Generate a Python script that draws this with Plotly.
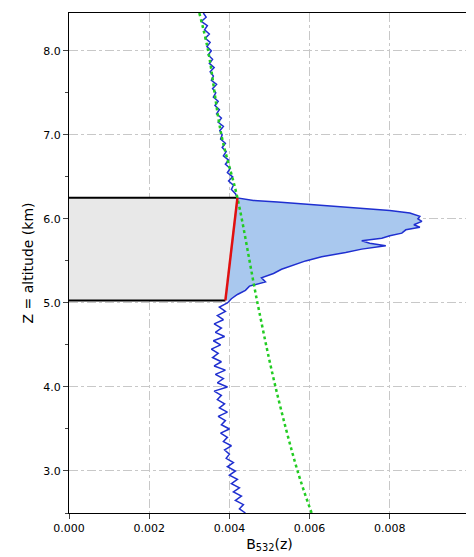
import plotly.graph_objects as go

# blue profile (x in units of 1e-3)
z_up = [8.45,8.40,8.35,8.30,8.25,8.20,8.15,8.10,8.05,8.00,7.95,7.90,7.85,7.80,7.75,7.70,7.65,7.60,7.55,7.50,7.45,7.40,7.35,7.30,7.25,7.20,7.15,7.10,7.05,7.00,6.95,6.90,6.85,6.80,6.75,6.70,6.65,6.60,6.55,6.50,6.45,6.40,6.35,6.30,6.25]
x_up = [3.35,3.42,3.30,3.45,3.38,3.50,3.40,3.52,3.44,3.55,3.47,3.58,3.50,3.62,3.52,3.60,3.55,3.68,3.58,3.66,3.60,3.72,3.64,3.75,3.68,3.80,3.72,3.85,3.76,3.82,3.78,3.90,3.82,3.92,3.85,3.98,3.90,4.02,3.95,4.08,3.98,4.10,4.05,4.15,4.20]
z_layer = [6.25,6.22,6.20,6.17,6.14,6.10,6.07,6.03,6.00,5.97,5.93,5.90,5.87,5.83,5.80,5.77,5.74,5.71,5.68,5.64,5.60,5.55,5.50,5.45,5.40,5.35,5.30,5.25,5.20,5.15,5.10,5.05,5.03]
x_layer = [4.20,4.6,5.2,6.0,7.0,8.0,8.5,8.75,8.7,8.8,8.6,8.75,8.4,8.3,8.0,7.8,7.3,7.5,7.9,7.3,6.9,6.3,5.9,5.6,5.3,5.1,4.8,4.9,4.5,4.4,4.2,4.05,4.0]
z_low = [5.03,5.00,4.95,4.90,4.85,4.80,4.75,4.70,4.65,4.60,4.55,4.50,4.45,4.40,4.35,4.30,4.25,4.20,4.15,4.10,4.05,4.00,3.95,3.90,3.85,3.80,3.75,3.70,3.65,3.60,3.55,3.50,3.45,3.40,3.35,3.30,3.25,3.20,3.15,3.10,3.05,3.00,2.95,2.90,2.85,2.80,2.75,2.70,2.65,2.60,2.55,2.50]
x_low = [4.0,3.95,3.75,3.90,3.70,3.85,3.62,3.80,3.65,3.88,3.60,3.78,3.55,3.72,3.58,3.80,3.62,3.90,3.65,3.85,3.70,3.95,3.62,3.80,3.70,3.88,3.75,3.95,3.72,3.90,3.80,4.00,3.78,3.95,3.85,4.05,3.88,4.00,3.92,4.10,3.95,4.15,4.00,4.20,4.05,4.25,4.10,4.30,4.15,4.35,4.25,4.40]

# molecular (green) profile
z_mol = [8.45,8.0,7.0,6.25,5.0,4.0,3.0,2.5]
x_mol = [3.25,3.47,3.8,4.2,4.7,5.15,5.7,6.05]

# layer bounds
z_base, z_top = 5.03, 6.25
x_base, x_top = 3.9, 4.2

s = 1e-3
fig = go.Figure()
fig.add_trace(go.Scatter(x=[0, x_base*s, x_top*s, 0], y=[z_base, z_base, z_top, z_top],
                         fill="toself", fillcolor="#e8e8e8", line=dict(width=0), mode="lines"))
fig.add_trace(go.Scatter(x=[v*s for v in x_layer] + [x_base*s], y=z_layer + [z_base],
                         fill="toself", fillcolor="#a9c8ee", line=dict(width=0), mode="lines"))
fig.add_trace(go.Scatter(x=[0, x_top*s], y=[z_top, z_top], mode="lines", line=dict(color="black", width=2)))
fig.add_trace(go.Scatter(x=[0, x_base*s], y=[z_base, z_base], mode="lines", line=dict(color="black", width=2)))
fig.add_trace(go.Scatter(x=[v*s for v in x_up + x_layer[1:] + x_low[1:]], y=z_up + z_layer[1:] + z_low[1:],
                         mode="lines", line=dict(color="#1f2fd0", width=1.5)))
fig.add_trace(go.Scatter(x=[v*s for v in x_mol], y=z_mol, mode="lines", line=dict(color="#22cc22", width=2.5, dash="dot", shape="spline")))
fig.add_trace(go.Scatter(x=[x_base*s, x_top*s], y=[z_base, z_top], mode="lines", line=dict(color="#e01010", width=2.5)))

fig.update_layout(width=474, height=557, margin=dict(l=61, r=12, t=5, b=52), showlegend=False,
                  plot_bgcolor="white", paper_bgcolor="white",
                  font=dict(family="DejaVu Sans", size=11, color="black"))
fig.update_xaxes(range=[0, 0.010], tickvals=[0, 0.002, 0.004, 0.006, 0.008, 0.010],
                 ticktext=["0.000","0.002","0.004","0.006","0.008","0.010"], automargin=False,
                 showgrid=True, gridcolor="#c8c8c8", griddash="dashdot", zeroline=False,
                 showline=True, linecolor="black", mirror=True, ticks="outside",
                 title=dict(text="B<sub>532</sub>(z)", font=dict(size=14), standoff=4))
fig.update_yaxes(range=[2.5, 8.45], tickvals=[3, 4, 5, 6, 7, 8],
                 ticktext=["3.0","4.0","5.0","6.0","7.0","8.0"], automargin=False,
                 showgrid=True, gridcolor="#c8c8c8", griddash="dashdot", zeroline=False,
                 showline=True, linecolor="black", mirror=True, ticks="outside",
                 minor=dict(dtick=0.5, ticks="outside", ticklen=3),
                 title=dict(text="Z = altitude (km)", font=dict(size=14), standoff=6))
fig.write_html("out.html")
